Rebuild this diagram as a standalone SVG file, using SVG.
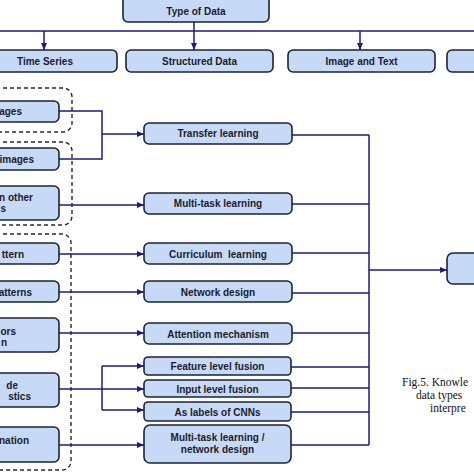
<svg xmlns="http://www.w3.org/2000/svg" width="474" height="474" viewBox="0 0 474 474">
<style>
.box{fill:#c6d9f6;stroke:#1c2333;stroke-width:1.6}
.grp{fill:none;stroke:#2a2a2a;stroke-width:1.4;stroke-dasharray:4 3}
.t{font-family:"Liberation Sans",Arial,sans-serif;font-weight:700;font-size:10px;fill:#1b1b2b}
.c{text-anchor:middle}
.e{text-anchor:end}
.ln{fill:none;stroke:#1d1d7a;stroke-width:1.5}
.cap{font-family:"Liberation Serif","Times New Roman",serif;font-size:11.5px;fill:#111}
</style>
<defs>
<marker id="ah" markerUnits="userSpaceOnUse" markerWidth="8" markerHeight="8" refX="7" refY="4" orient="auto">
<path d="M0,1 L7,4 L0,7 Z" fill="#1d1d7a"/>
</marker>
</defs>
<rect width="474" height="474" fill="#ffffff"/>

<g id="groups">
<rect class="grp" x="-20" y="88" width="92" height="44" rx="9"/>
<rect class="grp" x="-20" y="142" width="92" height="83" rx="9"/>
<rect class="grp" x="-20" y="234" width="91" height="236" rx="9"/>
</g>

<g id="connectors">
<path class="ln" d="M194,22 V31 M0,31 H474"/>
<path class="ln" d="M44,31 V50" marker-end="url(#ah)"/>
<path class="ln" d="M194,31 V50" marker-end="url(#ah)"/>
<path class="ln" d="M360,31 V50" marker-end="url(#ah)"/>
<path class="ln" d="M59,111 H102 V159 H59"/>
<path class="ln" d="M102,134 H144" marker-end="url(#ah)"/>
<path class="ln" d="M59,205 H144" marker-end="url(#ah)"/>
<path class="ln" d="M59,254 H144" marker-end="url(#ah)"/>
<path class="ln" d="M59,292 H144" marker-end="url(#ah)"/>
<path class="ln" d="M59,333 H144" marker-end="url(#ah)"/>
<path class="ln" d="M59,389 H144" marker-end="url(#ah)"/>
<path class="ln" d="M102,366 V410"/>
<path class="ln" d="M102,366 H144" marker-end="url(#ah)"/>
<path class="ln" d="M102,410 H144" marker-end="url(#ah)"/>
<path class="ln" d="M59,445 H144" marker-end="url(#ah)"/>
<path class="ln" d="M292,135 H369 M292,204 H369 M292,253 H369 M292,293 H369 M292,333 H369 M291,367 H369 M291,388 H369 M291,412 H369 M291,445 H369 M369,135 V445"/>
<path class="ln" d="M369,270 H447" marker-end="url(#ah)"/>
</g>

<g id="type-of-data"><rect class="box" x="123" y="-6" width="146" height="28" rx="5"/><text class="t c" x="196" y="15">Type of Data</text></g>

<g id="time-series"><rect class="box" x="-30" y="50" width="147" height="22" rx="5"/><text class="t c" x="45" y="65">Time Series</text></g>
<g id="structured-data"><rect class="box" x="126" y="50" width="147" height="22" rx="5"/><text class="t c" x="199.5" y="65">Structured Data</text></g>
<g id="image-and-text"><rect class="box" x="288" y="50" width="147" height="22" rx="5"/><text class="t c" x="361.5" y="65">Image and Text</text></g>
<g id="type-4"><rect class="box" x="447" y="50" width="60" height="22" rx="5"/></g>

<g id="src-1"><rect class="box" x="-30" y="101" width="89" height="21" rx="5"/><text class="t e" x="22" y="115">ages</text></g>
<g id="src-2"><rect class="box" x="-30" y="148" width="89" height="22" rx="5"/><text class="t e" x="34" y="163">images</text></g>
<g id="src-3"><rect class="box" x="-30" y="186" width="89" height="34" rx="5"/><text class="t e" x="33" y="201">n other</text><text class="t e" x="6" y="212">s</text></g>
<g id="src-4"><rect class="box" x="-30" y="243" width="89" height="21" rx="5"/><text class="t e" x="24" y="257.5">ttern</text></g>
<g id="src-5"><rect class="box" x="-30" y="281" width="89" height="21" rx="5"/><text class="t e" x="32" y="295.5">atterns</text></g>
<g id="src-6"><rect class="box" x="-30" y="318" width="89" height="34" rx="5"/><text class="t e" x="16" y="334.5">ors</text><text class="t e" x="7" y="345.5">n</text></g>
<g id="src-7"><rect class="box" x="-30" y="373" width="89" height="34" rx="5"/><text class="t e" x="18" y="388.5">de</text><text class="t e" x="31" y="399.5">stics</text></g>
<g id="src-8"><rect class="box" x="-30" y="427" width="89" height="35" rx="5"/><text class="t e" x="29" y="443.5">nation</text></g>

<g id="transfer-learning"><rect class="box" x="144" y="123" width="148" height="21" rx="5"/><text class="t c" x="218" y="137">Transfer learning</text></g>
<g id="multi-task-learning"><rect class="box" x="144" y="193" width="148" height="21" rx="5"/><text class="t c" x="218" y="207">Multi-task learning</text></g>
<g id="curriculum-learning"><rect class="box" x="144" y="243" width="148" height="21" rx="5"/><text class="t c" x="218" y="257.5" xml:space="preserve">Curriculum  learning</text></g>
<g id="network-design"><rect class="box" x="144" y="281" width="148" height="21" rx="5"/><text class="t c" x="218" y="295.5">Network design</text></g>
<g id="attention-mechanism"><rect class="box" x="144" y="323" width="148" height="21" rx="5"/><text class="t c" x="218" y="337.5">Attention mechanism</text></g>
<g id="feature-level-fusion"><rect class="box" x="144" y="357" width="147" height="18" rx="4"/><text class="t c" x="217.5" y="370">Feature level fusion</text></g>
<g id="input-level-fusion"><rect class="box" x="144" y="380" width="147" height="17" rx="4"/><text class="t c" x="217.5" y="393">Input level fusion</text></g>
<g id="as-labels"><rect class="box" x="144" y="402" width="147" height="19" rx="4"/><text class="t c" x="217.5" y="415.5">As labels of CNNs</text></g>
<g id="multi-task-network"><rect class="box" x="144" y="425" width="147" height="38" rx="6"/><text class="t c" x="217.5" y="441">Multi-task learning /</text><text class="t c" x="217.5" y="453">network design</text></g>

<g id="output"><rect class="box" x="447" y="253" width="60" height="31" rx="6"/></g>

<g id="caption">
<text class="cap" x="402" y="386">Fig.5. Knowle</text>
<text class="cap" x="416" y="399">data types</text>
<text class="cap" x="430" y="412">interpre</text>
</g>
</svg>
